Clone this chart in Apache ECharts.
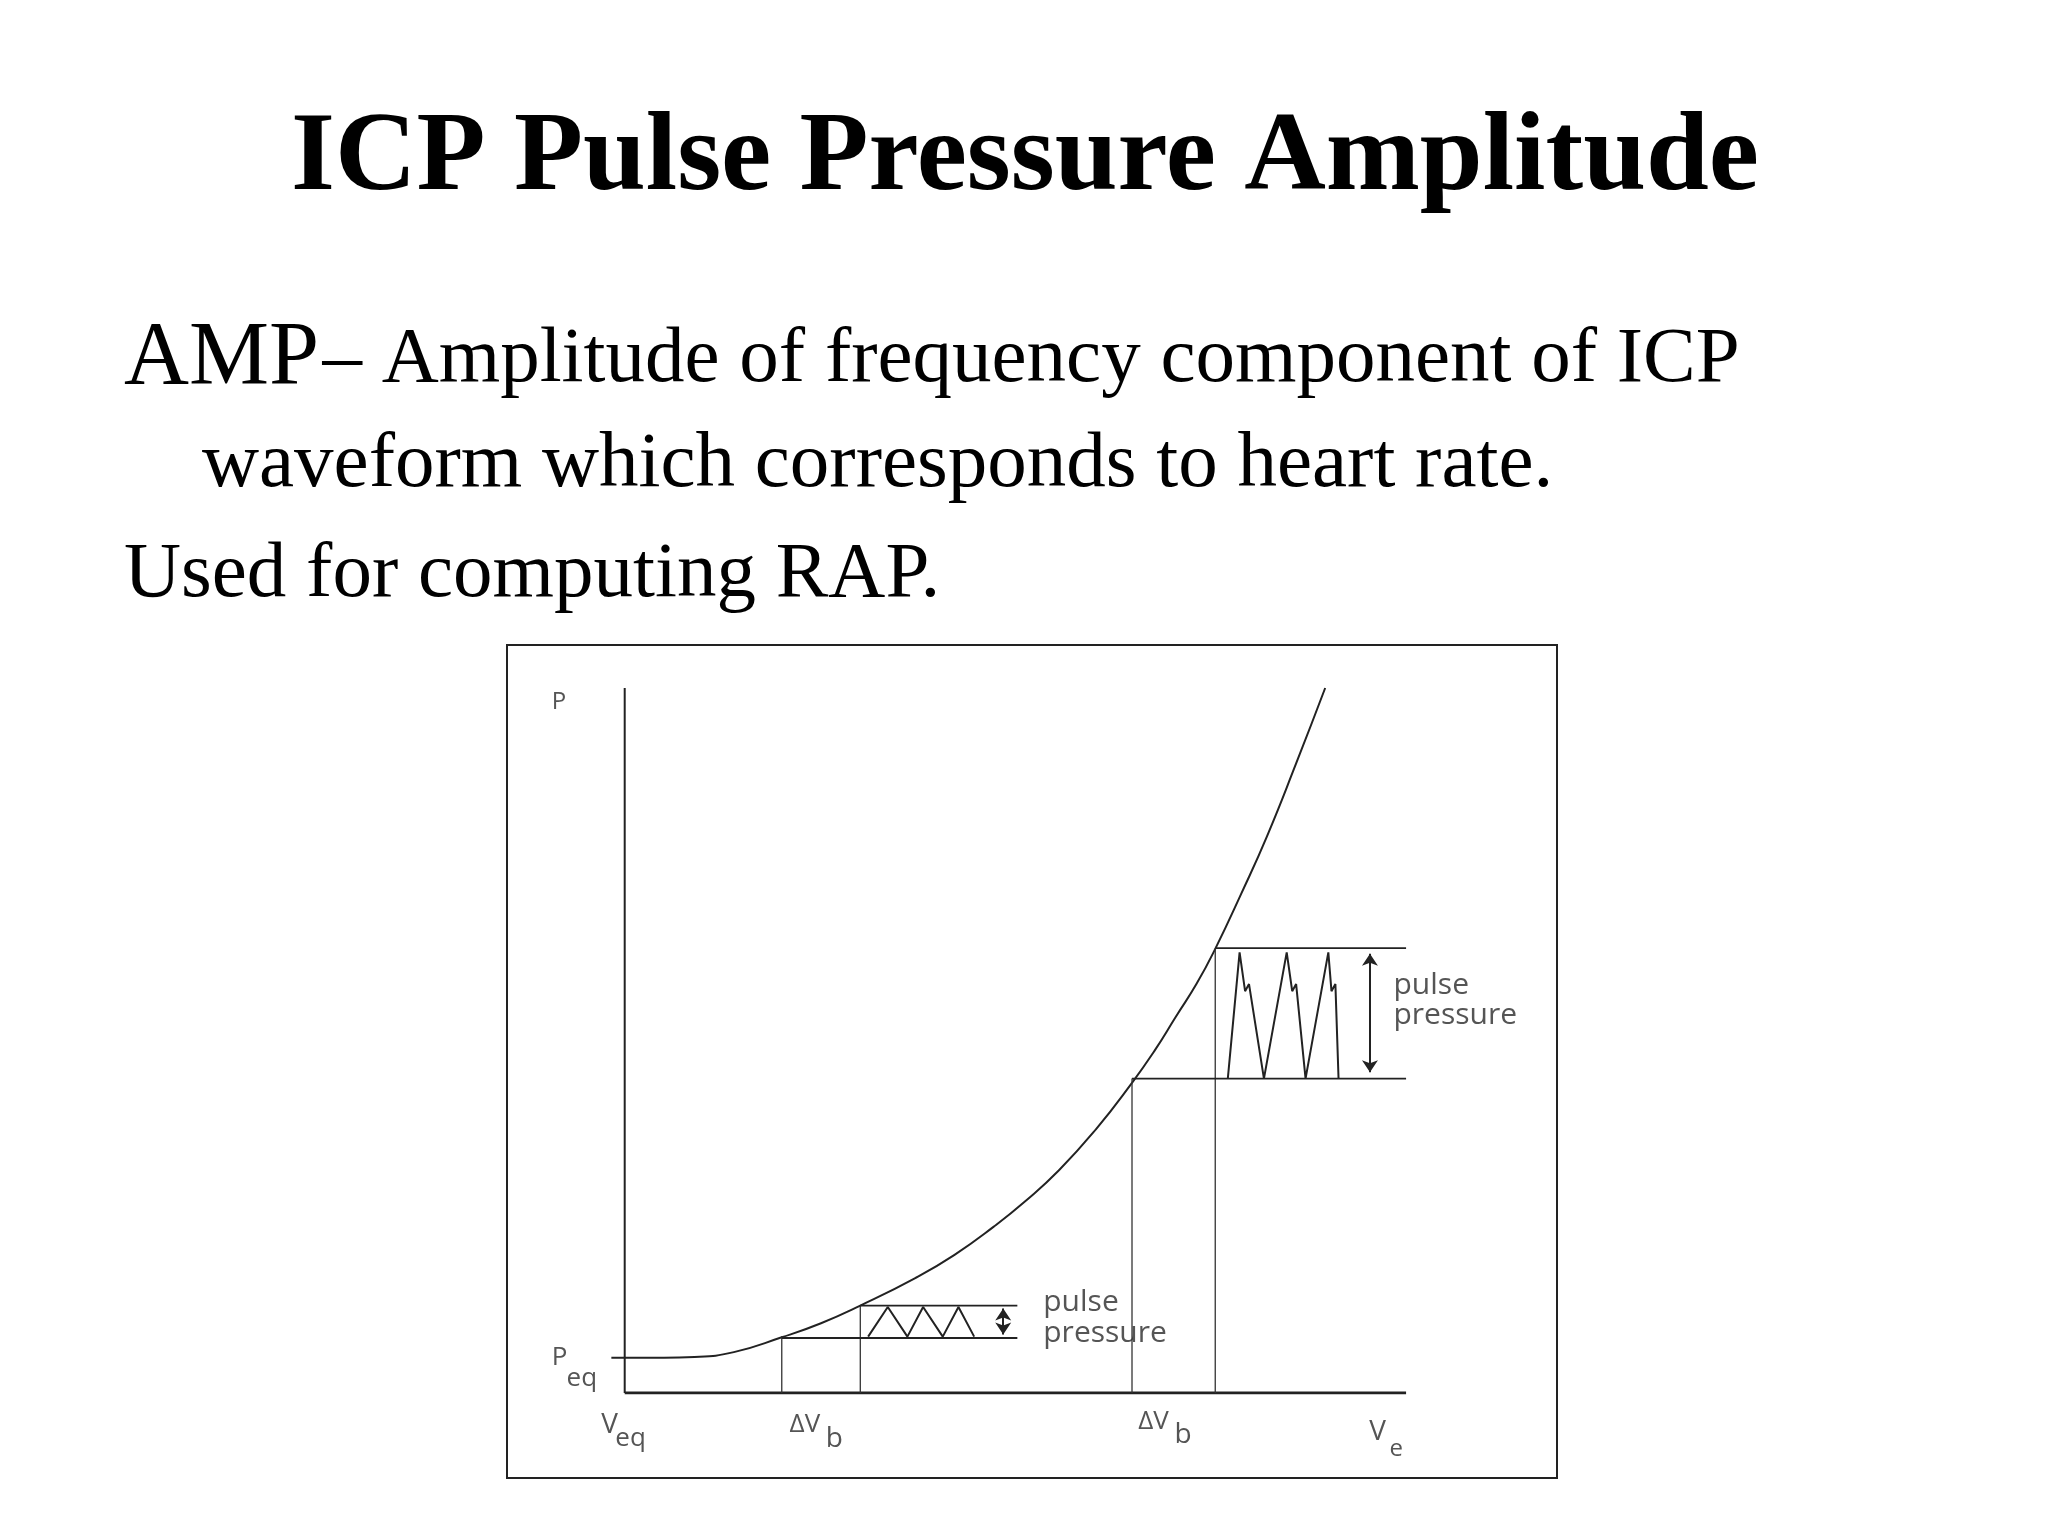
<!DOCTYPE html><html><head><meta charset="utf-8">
<script src="https://cdn.jsdelivr.net/npm/echarts@6/dist/echarts.min.js"></script>
<style>html,body{margin:0;background:#fff}#c{width:2048px;height:1536px}</style></head><body><div id="c"></div>
<script>
const curve=[[-1.7,5],[5,5],[8.9,5.1],[13.9,5.8],[20,7.9],[25,9.9],[30,12.4],[37,16.3],[42,19.6],[47,23.6],[51,27.2],[55.3,31.6],[60,37.4],[64.6,44],[67.5,48.6],[70.2,53.4],[72.8,58],[75.2,63],[78.5,70.8],[81.8,79],[85.5,89.3],[89.2,100]];
const axisY=[[0,0],[0,100]];
const axisX=[[0,0],[99.5,0]];
const verticals=[[[20,0],[20,8.1]],[[30,0],[30,12.4]],[[64.6,0],[64.6,44.6]],[[75.2,0],[75.2,63.1]]];
const horizontals=[[[30,12.4],[50,12.4]],[[20,7.8],[50,7.8]],[[75.2,63.1],[99.5,63.1]],[[64.6,44.6],[99.5,44.6]]];
const smallWave=[[31,8],[33.5,12.2],[36,8],[38,12.2],[40.5,8],[42.5,12.2],[44.5,8]];
const bigWave=[[76.8,44.6],[78.3,62.5],[79,57],[79.5,58],[81.4,44.6],[84.3,62.5],[85,57],[85.5,58],[86.7,44.6],[89.6,62.5],[90,57],[90.5,58],[90.9,44.6]];
const arrows=[[[48.2,8.3],[48.2,12]],[[94.9,45.5],[94.9,62.3]]];
const labels=[['P',-9.3,98,24],['P',-9.3,5,26],['eq',-7.4,2,26],['V',-3,-4.5,28],['eq',-1.2,-6.5,26],['\u0394V',21,-4.5,26],['b',25.6,-6.5,28],['\u0394V',65.4,-4,26],['b',70,-6,28],['V',94.8,-5.5,28],['e',97.4,-8,24],['pulse',53.3,12.8,30],['pressure',53.3,8.5,30],['pulse',97.9,57.8,30],['pressure',97.9,53.5,30]];
const title='ICP Pulse Pressure Amplitude';
const c=echarts.init(document.getElementById('c'));
const ls={color:'#222',width:2};
const thin={color:'#333',width:1.3};
const series=[
 {type:'line',data:curve,smooth:true,symbol:'none',lineStyle:{color:'#222',width:2}},
 {type:'line',data:axisY,symbol:'none',lineStyle:ls},
 {type:'line',data:axisX,symbol:'none',lineStyle:{color:'#222',width:3}},
 {type:'line',data:smallWave,symbol:'none',lineStyle:ls},
 {type:'line',data:bigWave,symbol:'none',lineStyle:ls},
];
verticals.forEach(v=>series.push({type:'line',data:v,symbol:'none',lineStyle:thin}));
horizontals.forEach(v=>series.push({type:'line',data:v,symbol:'none',lineStyle:{color:'#222',width:1.8}}));
series.push({type:'lines',coordinateSystem:'cartesian2d',symbol:['arrow','arrow'],symbolSize:12,lineStyle:{color:'#222',width:2,opacity:1},data:arrows.map(a=>({coords:a}))});
const serif='"Liberation Serif"';
const opt={animation:false,
 grid:{left:609,top:688,width:801,height:705},
 xAxis:{type:'value',min:-2,max:100,show:false},
 yAxis:{type:'value',min:0,max:100,show:false},
 graphic:[
  {type:'rect',shape:{x:507,y:645,width:1050,height:833},style:{fill:'none',stroke:'#222',lineWidth:2}},
  {type:'text',x:1025,y:160,style:{text:title,font:'bold 113px '+serif,fill:'#000',align:'center',verticalAlign:'middle'}},
  {type:'text',x:124,y:405,style:{rich:{a:{font:'90px '+serif,fill:'#000'},b:{font:'79px '+serif,fill:'#000'}},text:'{a|AMP} {b|\u2013 Amplitude of frequency component of ICP}',verticalAlign:'bottom'}},
  {type:'text',x:202,y:505,style:{text:'waveform which corresponds to heart rate.',font:'79px '+serif,fill:'#000',verticalAlign:'bottom'}},
  {type:'text',x:124,y:615,style:{text:'Used for computing RAP.',font:'79px '+serif,fill:'#000',verticalAlign:'bottom'}}
 ],
 series};
c.setOption(opt);
const g=opt.graphic.slice();
labels.forEach(l=>{const p=c.convertToPixel({gridIndex:0},[l[1],l[2]]);g.push({type:'text',x:p[0],y:p[1],style:{text:l[0],font:l[3]+'px "Open Sans"',fill:'#555',verticalAlign:'middle'}});});
c.setOption({graphic:g});
</script></body></html>
